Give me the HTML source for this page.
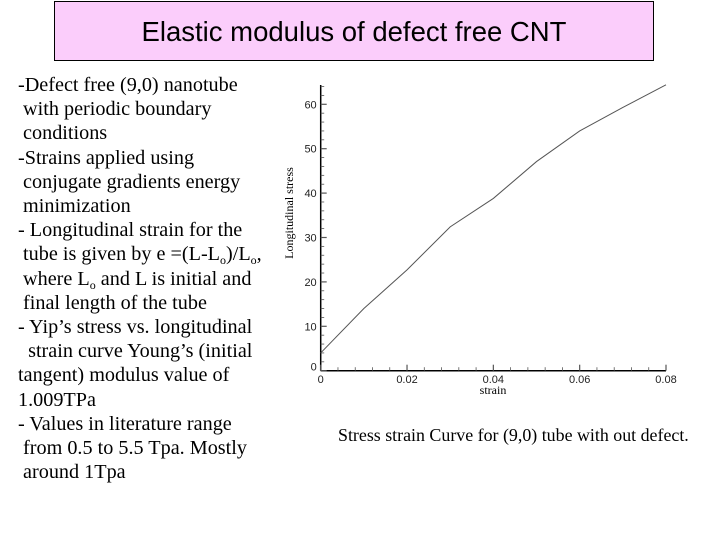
<!DOCTYPE html>
<html><head><meta charset="utf-8"><style>
body{margin:0;width:720px;height:540px;background:#fff;position:relative;overflow:hidden}
#title{position:absolute;left:54px;top:1px;width:598px;height:58px;background:#fbcdfb;border:1.5px solid #000;font:27.5px "Liberation Sans",sans-serif;text-align:center;line-height:60px}
#bullets{position:absolute;left:18px;top:73px;font:20.2px "Liberation Serif",serif;line-height:24.2px;color:#000;white-space:pre}
#caption{position:absolute;left:338px;top:425px;font:17.9px "Liberation Serif",serif;white-space:nowrap}
sub{font-size:12px;vertical-align:-4px;line-height:0}
</style></head><body>
<div id="title">Elastic modulus of defect free CNT</div>
<div id="bullets">-Defect free (9,0) nanotube
 with periodic boundary
 conditions
-Strains applied using
 conjugate gradients energy
 minimization
- Longitudinal strain for the
 tube is given by e =(L-L<sub>o</sub>)/L<sub>o</sub>,
 where L<sub>o</sub> and L is initial and
 final length of the tube
- Yip’s stress vs. longitudinal
  strain curve Young’s (initial
tangent) modulus value of
1.009TPa
- Values in literature range
 from 0.5 to 5.5 Tpa. Mostly
 around 1Tpa</div>
<svg id="chart" width="720" height="540" style="position:absolute;left:0;top:0"></svg>
<div id="caption">Stress strain Curve for (9,0) tube with out defect.</div>
<script>
const strain=[0,0.01,0.02,0.03,0.04,0.05,0.06,0.07,0.08];
const stress=[4,14,22.7,32.4,38.8,47.1,54,59.3,64.4];
const xTicks=[0,0.02,0.04,0.06,0.08];
const xTickLabels=["0","0.02","0.04","0.06","0.08"];
const yTicks=[0,10,20,30,40,50,60];
const yTickLabels=["0","10","20","30","40","50","60"];
const svg=document.getElementById('chart');const NS="http://www.w3.org/2000/svg";
const X=v=>320.7+v/0.08*345.3;const Y=v=>370.7-v/60*266.4;
function mk(t,a,p){const e=document.createElementNS(NS,t);for(const k in a)e.setAttribute(k,a[k]);(p||svg).appendChild(e);return e;}
let e=mk('line',{x1:X(0),y1:Y(0),x2:X(0.08),y2:Y(0),stroke:'#000','stroke-width':1.5});

e=mk('line',{x1:X(0),y1:Y(0),x2:X(0),y2:85,stroke:'#000','stroke-width':1.5});

for(let v=0;v<=64;v+=2){const maj=v%10===0;mk('line',{x1:X(0),x2:X(0)+(maj?6:3.5),y1:Y(v),y2:Y(v),stroke:'#555','stroke-width':maj?1.2:0.8});}
for(let i=0;i<=20;i++){const v=i*0.004;const maj=i%5===0;mk('line',{x1:X(v),x2:X(v),y1:Y(0),y2:Y(0)-(maj?6:3.5),stroke:'#555','stroke-width':maj?1.2:0.8});}
xTicks.forEach((v,i)=>{const t=mk('text',{x:X(v),y:383,'text-anchor':'middle','font-size':11,'font-family':'Liberation Sans, sans-serif',fill:'#222'});t.textContent=xTickLabels[i];
});
yTicks.forEach((v,i)=>{const t=mk('text',{x:X(0)-4,y:Y(v)+(v===0?0:4),'text-anchor':'end','font-size':11,'font-family':'Liberation Sans, sans-serif',fill:'#222'});t.textContent=yTickLabels[i];
});
let t=mk('text',{x:493,y:394,'text-anchor':'middle','font-size':12,'font-family':'Liberation Serif, serif'});t.textContent='strain';

t=mk('text',{x:0,y:0,'text-anchor':'middle','font-size':12,'font-family':'Liberation Serif, serif',transform:'translate(293,213) rotate(-90)'});t.textContent='Longitudinal stress';

const pl=mk('polyline',{points:strain.map((s,i)=>X(s)+','+Y(stress[i])).join(' '),fill:'none',stroke:'#555','stroke-width':1});

</script>
</body></html>
